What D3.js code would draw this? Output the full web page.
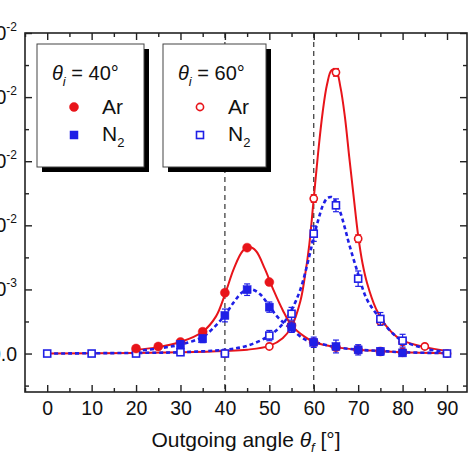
<!DOCTYPE html>
<html>
<head>
<meta charset="utf-8">
<script src="https://cdn.jsdelivr.net/npm/d3@7"></script>
<style>
  body { margin: 0; background: #fff; }
  svg { font-family: "Liberation Sans", Arial, sans-serif; }
</style>
</head>
<body>
<div id="chart-container"></div>
<script>
// measured points (theta_i = 40)
const angleAr40 = [20, 25, 30, 35, 40, 45, 50, 55, 60, 65, 70, 75, 80];
const valueAr40 = [0.00039, 0.00055, 0.0009, 0.0017, 0.00474, 0.00826, 0.00557, 0.00219, 0.00088, 0.00049, 0.00029, 0.00016, 0.0001];
const errorAr40 = [0.0001, 0.0001, 0.0001, 0.0002, 0.0002, 0.0002, 0.0002, 0.0002, 0.0002, 0.0002, 0.0001, 0.0001, 0.0001];

const angleN2_40 = [30, 35, 40, 45, 50, 55, 60, 65, 70, 75, 80];
const valueN2_40 = [0.0007, 0.00115, 0.00297, 0.00498, 0.00362, 0.00205, 0.00088, 0.00055, 0.00029, 0.00016, 0.00005];
const errorN2_40 = [0.0003, 0.0003, 0.0005, 0.00045, 0.0004, 0.0004, 0.0004, 0.0005, 0.0004, 0.0003, 0.0002];

// measured points (theta_i = 60)
const angleAr60 = [40, 50, 55, 60, 65, 70, 75, 80, 85, 90];
const valueAr60 = [0.0, 0.00055, 0.0021, 0.01209, 0.02193, 0.00896, 0.0025, 0.0009, 0.00055, 0.0];
const errorAr60 = [0.0001, 0.0001, 0.0002, 0.0003, 0.0003, 0.0003, 0.0002, 0.0002, 0.0001, 0.0001];

const angleN2_60 = [0, 10, 20, 30, 40, 50, 55, 60, 65, 70, 75, 80, 90];
const valueN2_60 = [0.0, 0.0, 0.0, 0.0001, 0.0, 0.0014, 0.0031, 0.00935, 0.01156, 0.00584, 0.0027, 0.001, 0.0];
const errorN2_60 = [0.0001, 0.0001, 0.0001, 0.0001, 0.0001, 0.0004, 0.0005, 0.0006, 0.0005, 0.0006, 0.0005, 0.0005, 0.0001];

// fitted curves
const fitAngleAr40 = [20, 25, 30, 35, 38, 40, 42, 44, 45.5, 47, 49, 51, 53, 55, 58, 60, 65, 70, 75, 80, 90];
const fitValueAr40 = [0.0003, 0.0005, 0.0009, 0.0017, 0.0029, 0.0046, 0.0066, 0.008, 0.0083, 0.008, 0.0066, 0.0049, 0.0034, 0.0022, 0.0013, 0.0009, 0.0005, 0.0003, 0.0002, 0.0001, 0.00003];

const fitAngleN2_40 = [20, 25, 30, 35, 38, 40, 42, 44, 46, 48, 50, 52, 55, 58, 60, 65, 70, 75, 80, 90];
const fitValueN2_40 = [0.0002, 0.0004, 0.0007, 0.0013, 0.0022, 0.003, 0.004, 0.0048, 0.005, 0.0046, 0.0037, 0.0028, 0.0019, 0.0011, 0.0009, 0.0005, 0.0003, 0.0002, 0.0001, 0.00003];

const fitAngleAr60 = [0, 20, 30, 40, 45, 50, 53, 55, 57, 58, 59, 60, 61, 62, 63, 64, 65, 66, 67, 68, 69, 70, 71, 72, 74, 76, 78, 80, 85, 90];
const fitValueAr60 = [0.0, 0.00005, 0.0001, 0.0002, 0.0003, 0.0006, 0.0012, 0.0021, 0.0041, 0.006, 0.0085, 0.0121, 0.0157, 0.0188, 0.021, 0.0221, 0.0221, 0.0208, 0.0185, 0.0153, 0.0122, 0.0092, 0.007, 0.0055, 0.0035, 0.0023, 0.0015, 0.001, 0.0005, 0.0002];

const fitAngleN2_60 = [0, 20, 30, 40, 45, 50, 53, 55, 57, 59, 60, 61, 62, 63, 64, 65, 66, 67, 68, 70, 72, 75, 78, 80, 85, 90];
const fitValueN2_60 = [0.0, 0.00005, 0.0001, 0.0003, 0.0006, 0.0014, 0.0023, 0.0034, 0.005, 0.0076, 0.0091, 0.0104, 0.0115, 0.0121, 0.0122, 0.0118, 0.011, 0.0098, 0.0085, 0.0062, 0.0042, 0.0027, 0.0015, 0.001, 0.0004, 0.0001];

// axis ticks
const xTicks = [0, 10, 20, 30, 40, 50, 60, 70, 80, 90];
const yTicks = [0, 0.005, 0.01, 0.015, 0.02, 0.025];
const yTickBase = ["0.0", "5.0x10", "1.0x10", "1.5x10", "2.0x10", "2.5x10"];
const yTickExp = ["", "-3", "-2", "-2", "-2", "-2"];
const incidentAngles = [40, 60];

document.addEventListener('DOMContentLoaded', function(){
  drawChart();
});

function zip(a, b, e){
  return a.map((d, i) => ({x: d, y: b[i], e: e ? e[i] : 0}));
}

function drawChart(){
  let svgWidth = 474;
  let svgHeight = 474;
  let red = "#e8141a";
  let blue = "#1f1fe6";
  let axisColor = "#222";

  let svg = d3.select('#chart-container')
    .append('svg')
    .attr('width', svgWidth)
    .attr('height', svgHeight);

  let xScale = d3.scaleLinear().domain([-5, 94.5]).range([25, 467]);
  let yScale = d3.scaleLinear().domain([-0.003, 0.025]).range([392, 33]);

  //Dashed guide lines at the incident angles
  svg.selectAll(".guide")
    .data(incidentAngles)
    .enter()
    .append("line")
    .attr("class", "guide")
    .attr("x1", d => xScale(d))
    .attr("x2", d => xScale(d))
    .attr("y1", yScale.range()[1])
    .attr("y2", yScale.range()[0])
    .attr("stroke", "#333")
    .attr("stroke-width", 1.2)
    .attr("stroke-dasharray", "5,4");

  //Fit curves
  let line = d3.line()
    .x(d => xScale(d.x))
    .y(d => yScale(d.y))
    .curve(d3.curveCatmullRom.alpha(0.5));

  let fits = [
    {data: zip(fitAngleAr40, fitValueAr40), color: red, dash: null, width: 2},
    {data: zip(fitAngleAr60, fitValueAr60), color: red, dash: null, width: 2},
    {data: zip(fitAngleN2_40, fitValueN2_40), color: blue, dash: "4,3", width: 2.6},
    {data: zip(fitAngleN2_60, fitValueN2_60), color: blue, dash: "4,3", width: 2.6}
  ];
  fits.forEach(f => {
    svg.append("path")
      .attr("d", line(f.data))
      .attr("fill", "none")
      .attr("stroke", f.color)
      .attr("stroke-width", f.width)
      .attr("stroke-dasharray", f.dash);
  });

  //Data points with error bars
  let series = [
    {data: zip(angleAr60, valueAr60, errorAr60), color: red, shape: "circle", filled: false},
    {data: zip(angleN2_60, valueN2_60, errorN2_60), color: blue, shape: "square", filled: false},
    {data: zip(angleAr40, valueAr40, errorAr40), color: red, shape: "circle", filled: true},
    {data: zip(angleN2_40, valueN2_40, errorN2_40), color: blue, shape: "square", filled: true}
  ];
  series.forEach(s => {
    let g = svg.append("g");
    let bars = g.selectAll(".err")
      .data(s.data)
      .enter()
      .append("g")
      .attr("stroke", s.color)
      .attr("stroke-width", 1.2);
    bars.append("line")
      .attr("x1", d => xScale(d.x)).attr("x2", d => xScale(d.x))
      .attr("y1", d => yScale(d.y - d.e)).attr("y2", d => yScale(d.y + d.e));
    bars.append("line")
      .attr("x1", d => xScale(d.x) - 3).attr("x2", d => xScale(d.x) + 3)
      .attr("y1", d => yScale(d.y + d.e)).attr("y2", d => yScale(d.y + d.e));
    bars.append("line")
      .attr("x1", d => xScale(d.x) - 3).attr("x2", d => xScale(d.x) + 3)
      .attr("y1", d => yScale(d.y - d.e)).attr("y2", d => yScale(d.y - d.e));
    drawMarkers(g, s.data.map(d => [xScale(d.x), yScale(d.y)]), s);
  });

  //Frame
  svg.append("rect")
    .attr("x", xScale.range()[0])
    .attr("y", yScale.range()[1])
    .attr("width", xScale.range()[1] - xScale.range()[0])
    .attr("height", yScale.range()[0] - yScale.range()[1])
    .attr("fill", "none")
    .attr("stroke", axisColor)
    .attr("stroke-width", 1.6);

  //X axis (bottom) with labels, top without
  let xMinor = d3.range(-5, 95, 5).filter(d => d % 10 !== 0);
  let xAxis = d3.axisBottom(xScale).tickValues(xTicks).tickSizeInner(-7).tickSizeOuter(0).tickPadding(9).tickFormat(d3.format("d"));
  let gx = svg.append("g")
    .attr("transform", "translate(0," + yScale.range()[0] + ")")
    .call(xAxis);
  gx.selectAll("text").style("font-size", "19.5px").attr("fill", "#111");
  svg.append("g")
    .attr("transform", "translate(0," + yScale.range()[0] + ")")
    .call(d3.axisBottom(xScale).tickValues(xMinor).tickSizeInner(-4).tickSizeOuter(0).tickFormat(""));
  svg.append("g")
    .attr("transform", "translate(0," + yScale.range()[1] + ")")
    .call(d3.axisTop(xScale).tickValues(xTicks).tickSizeInner(-7).tickSizeOuter(0).tickFormat(""));
  svg.append("g")
    .attr("transform", "translate(0," + yScale.range()[1] + ")")
    .call(d3.axisTop(xScale).tickValues(xMinor).tickSizeInner(-4).tickSizeOuter(0).tickFormat(""));

  //Y axis left and right
  let yMinor = [-0.0025, 0.0025, 0.0075, 0.0125, 0.0175, 0.0225];
  let xl = xScale.range()[0], xr = xScale.range()[1];
  svg.append("g").attr("transform", "translate(" + xl + ",0)")
    .call(d3.axisLeft(yScale).tickValues(yTicks).tickSizeInner(-7).tickSizeOuter(0).tickFormat(""));
  svg.append("g").attr("transform", "translate(" + xl + ",0)")
    .call(d3.axisLeft(yScale).tickValues(yMinor).tickSizeInner(-4).tickSizeOuter(0).tickFormat(""));
  svg.append("g").attr("transform", "translate(" + xr + ",0)")
    .call(d3.axisRight(yScale).tickValues(yTicks).tickSizeInner(-7).tickSizeOuter(0).tickFormat(""));
  svg.append("g").attr("transform", "translate(" + xr + ",0)")
    .call(d3.axisRight(yScale).tickValues(yMinor).tickSizeInner(-4).tickSizeOuter(0).tickFormat(""));
  svg.selectAll(".domain").remove();
  svg.selectAll(".tick line").attr("stroke", axisColor).attr("stroke-width", 1.4);

  //Y tick labels with exponents (cut by the left edge, as in the source)
  let yLabels = svg.selectAll(".ylab")
    .data(yTicks)
    .enter()
    .append("text")
    .attr("class", "ylab")
    .attr("x", 17)
    .attr("y", d => yScale(d) + 7)
    .attr("text-anchor", "end")
    .style("font-size", "19.5px")
    .attr("fill", "#111");
  yLabels.append("tspan").text((d, i) => yTickBase[i]);
  yLabels.append("tspan")
    .attr("dy", -9)
    .style("font-size", "12px")
    .text((d, i) => yTickExp[i]);

  //X axis title
  let title = svg.append("text")
    .attr("x", (xl + xr) / 2)
    .attr("y", 447)
    .attr("text-anchor", "middle")
    .style("font-size", "21px")
    .attr("fill", "#111");
  title.append("tspan").text("Outgoing angle ");
  title.append("tspan").style("font-style", "italic").text("\u03b8");
  title.append("tspan").style("font-style", "italic").style("font-size", "13px").attr("dy", 5).text("f");
  title.append("tspan").attr("dy", -5).text(" [\u00b0]");

  //Legend boxes
  drawLegend(svg, 37, 44, 107, 123, 40, false, red, blue);
  drawLegend(svg, 163, 44, 103, 123, 60, true, red, blue);
}

function drawMarkers(g, points, s){
  if (s.shape === "circle") {
    g.selectAll(".mk")
      .data(points)
      .enter()
      .append("circle")
      .attr("cx", d => d[0])
      .attr("cy", d => d[1])
      .attr("r", s.filled ? 4.5 : 3.6)
      .attr("fill", s.filled ? s.color : "#fff")
      .attr("stroke", s.color)
      .attr("stroke-width", s.filled ? 0.5 : 1.6);
  } else {
    let size = s.filled ? 8 : 7;
    g.selectAll(".mk")
      .data(points)
      .enter()
      .append("rect")
      .attr("x", d => d[0] - size / 2)
      .attr("y", d => d[1] - size / 2)
      .attr("width", size)
      .attr("height", size)
      .attr("fill", s.filled ? s.color : "#fff")
      .attr("stroke", s.color)
      .attr("stroke-width", s.filled ? 0.5 : 1.6);
  }
}

function drawLegend(svg, x, y, w, h, angle, open, red, blue){
  let g = svg.append("g").attr("transform", "translate(" + x + "," + y + ")");
  g.append("rect")
    .attr("x", 5).attr("y", 5)
    .attr("width", w).attr("height", h)
    .attr("fill", "#000");
  g.append("rect")
    .attr("width", w).attr("height", h)
    .attr("fill", "#fff")
    .attr("stroke", "#444")
    .attr("stroke-width", 1);

  let head = g.append("text")
    .attr("x", 15)
    .attr("y", 36)
    .style("font-size", "20px")
    .attr("fill", "#111");
  head.append("tspan").style("font-style", "italic").text("\u03b8");
  head.append("tspan").style("font-style", "italic").style("font-size", "13px").attr("dy", 6).text("i");
  head.append("tspan").attr("dy", -6).text(" = " + angle + "\u00b0");

  let mx = 37;
  drawMarkers(g, [[mx, 63]], {shape: "circle", filled: !open, color: red});
  drawMarkers(g, [[mx, 91]], {shape: "square", filled: !open, color: blue});

  g.append("text")
    .attr("x", 65).attr("y", 70)
    .style("font-size", "21px")
    .attr("fill", "#111")
    .text("Ar");
  let n2 = g.append("text")
    .attr("x", 65).attr("y", 97)
    .style("font-size", "21px")
    .attr("fill", "#111");
  n2.append("tspan").text("N");
  n2.append("tspan").style("font-size", "13px").attr("dy", 6).text("2");
}
</script>
</body>
</html>
